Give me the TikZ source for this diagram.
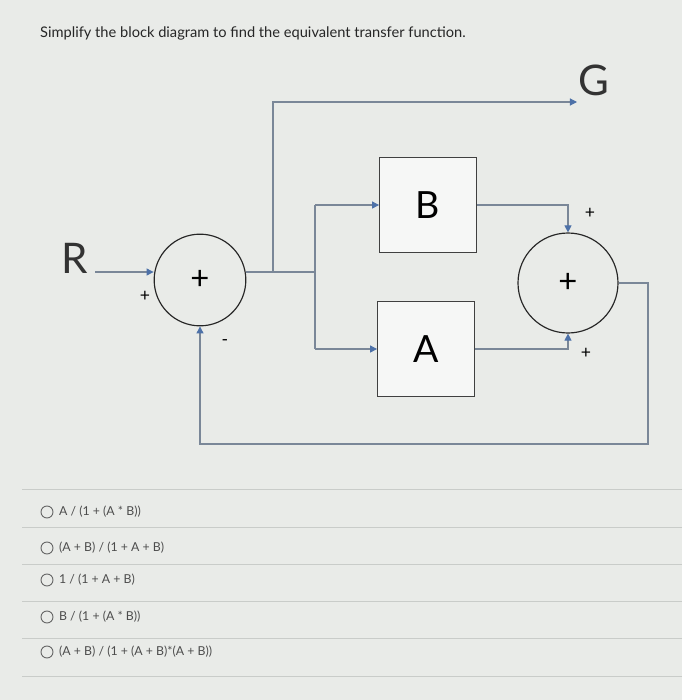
\documentclass[tikz,border=0pt]{standalone}
\usepackage{fontspec}
\setmainfont{Lato}
\usetikzlibrary{arrows.meta}
\definecolor{bg}{HTML}{E9EBE8}
\definecolor{wire}{HTML}{7A8798}
\definecolor{tip}{HTML}{4D71A8}
\definecolor{sep}{HTML}{C9CCC9}
\begin{document}
\begin{tikzpicture}[x=0.03cm,y=-0.03cm,
  wirel/.style={draw=wire,line width=0.9pt},
  arr/.style={wirel,-{Triangle[length=6pt,width=6pt,fill=tip,color=tip]}},
  sumnode/.style={circle,draw=black!85,line width=1pt,minimum size=2.75cm,inner sep=0pt,font=\fontsize{28}{28}\selectfont},
  blk/.style={draw=black!75,line width=1pt,fill=white!60!bg,minimum width=2.9cm,minimum height=2.85cm,font=\fontsize{32}{32}\selectfont},
  big/.style={font=\fontsize{36}{36}\selectfont,text=black!80},
  sgn/.style={font=\fontsize{15}{15}\selectfont},
  opt/.style={anchor=west,font=\fontsize{10.5}{11}\selectfont,text=black!70},
  radio/.style={circle,draw=black!60,line width=0.8pt,minimum size=0.36cm,inner sep=0pt}]
\fill[bg] (0,0) rectangle (682,700);
\useasboundingbox (0,0) rectangle (682,700);
\node[anchor=west,font=\fontsize{12.5}{13}\selectfont,text=black!85] (title) at (36,33) {Simplify the block diagram to find the equivalent transfer function.};
\node[big] (R) at (75,258) {R};
\node[big] (G) at (594,80) {G};
\node[sumnode] (s1) at (200,280) {+};
\node[sumnode,minimum size=3cm] (s2) at (568,283) {+};
\node[blk] (B) at (428,205) {B};
\node[blk] (A) at (426,349) {A};
\coordinate (rin) at (95,272);
\coordinate (j1) at (273,272);
\coordinate (j2) at (315,272);
\coordinate (gend) at (577,102);
\coordinate (fb) at (648,444);
\draw[arr] (rin) -- (rin -| s1.west);
\draw[wirel] (s1.east |- j1) -- (j2);
\draw[arr] (j1) -- (273,102) -- (gend);
\draw[arr] (315,205) -- (B.west);
\draw[arr] (315,349) -- (A.west);
\draw[wirel] (315,205) -- (315,349);
\draw[arr] (B.east) -- (B.east -| s2.north) -- (s2.north);
\draw[arr] (A.east) -- (A.east -| s2.south) -- (s2.south);
\draw[arr] (s2.east) -- (s2.east -| fb) -- (fb) -- (fb -| s1.south) -- (s1.south);
\node[sgn] (p1) at (145,296) {+};
\node[sgn] (m1) at (225,343) {-};
\node[sgn] (p2) at (590,213) {+};
\node[sgn] (p3) at (586,353) {+};
\foreach \y in {489,527,564,601,638,676}
  \draw[sep,line width=0.8pt] (22,\y) -- (682,\y);
\foreach \y/\t/\n in {512/{A / (1 + (A * B))}/o1, 548/{(A + B) / (1 + A + B)}/o2, 580/{1 / (1 + A + B)}/o3, 617/{B / (1 + (A * B))}/o4, 652/{(A + B) / (1 + (A + B)*(A + B))}/o5}{
  \node[radio] (r\n) at (47,\y) {};
  \node[opt] (\n) at (55,\y) {\t};
}
\end{tikzpicture}
\end{document}
